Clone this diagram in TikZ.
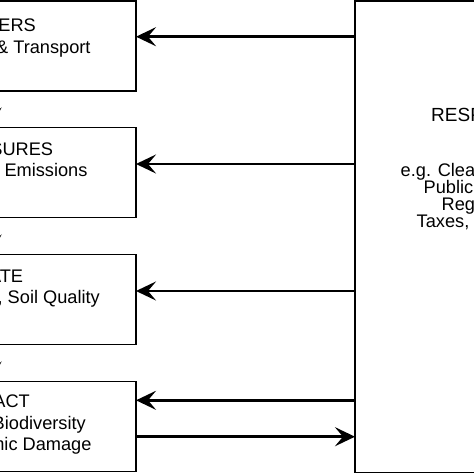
\documentclass[tikz,border=0pt]{standalone}
\usepackage{fontspec}
\setmainfont{Liberation Sans}
\usetikzlibrary{arrows.meta}
\begin{document}
\begin{tikzpicture}[x=1pt,y=-1pt,
  box/.style={draw=black,line width=1.6pt,fill=white,minimum width=278pt,minimum height=90pt,inner sep=0pt,outer sep=0pt},
  respbox/.style={draw=black,line width=1.4pt,fill=white,minimum width=260pt,minimum height=471.3pt,inner sep=0pt,outer sep=0pt},
  txt/.style={inner sep=0pt,font=\fontsize{18.2}{20}\selectfont},
  ttl/.style={inner sep=0pt,font=\fontsize{19}{21}\selectfont},
  arr/.style={line width=2.5pt,-{Stealth[length=20pt,width=19pt,inset=8pt]}}
]
\useasboundingbox (0,0) rectangle (474,474);
\clip (0,0) rectangle (474,474);
\fill[white] (0,0) rectangle (474,474);
% boxes
\node[box] (drivers) at (-3,46) {};
\node[box] (pressures) at (-3,172.5) {};
\node[box] (state) at (-3,299.5) {};
\node[box] (impact) at (-3,426.5) {};
\node[respbox] (responses) at (485,236.65) {};
% left box texts
\node[txt,anchor=base east] (d1) at (36,31.7) {DRIVERS};
\node[txt,anchor=base east] (d2) at (90.7,53.3) {e.g. Industry \& Transport};
\node[txt,anchor=base east] (p1) at (53.3,155) {PRESSURES};
\node[txt,anchor=base east] (p2) at (87.7,176) {e.g. Polluting Emissions};
\node[txt,anchor=base east] (s1) at (23.3,282.5) {STATE};
\node[txt,anchor=base east] (s2) at (100,303.5) {e.g. Air, Water, Soil Quality};
\node[txt,anchor=base east] (i1) at (30,407.7) {IMPACT};
\node[txt,anchor=base east] (i2) at (86,429.5) {e.g. Ill Health, Loss of Biodiversity};
\node[txt,anchor=base east] (i3) at (91.7,450.5) {Economic Damage};
% responses text
\node[ttl,anchor=base west] (r1) at (431,121) {RESPONSES};
\node[txt,anchor=base west] (r2) at (400.5,176.5) {e.g. Clean Production,};
\node[txt,anchor=base west] (r3) at (423.5,193.5) {Public Transport,};
\node[txt,anchor=base west] (r4) at (441.5,210.5) {Regulations,};
\node[txt,anchor=base west] (r5) at (416.5,227.5) {Taxes, Information};
% arrow levels
\coordinate (y1) at (0,36.7);
\coordinate (y2) at (0,164);
\coordinate (y3) at (0,291);
\coordinate (y4) at (0,400.3);
\coordinate (y5) at (0,436.7);
\coordinate (vx) at (-8,0);
\draw[arr] (responses.west |- y1) -- (drivers.east |- y1);
\draw[arr] (responses.west |- y2) -- (pressures.east |- y2);
\draw[arr] (responses.west |- y3) -- (state.east |- y3);
\draw[arr] (responses.west |- y4) -- (impact.east |- y4);
\draw[arr] (impact.east |- y5) -- (responses.west |- y5);
% vertical arrows between boxes
\draw[arr] (drivers.south -| vx) -- (pressures.north -| vx);
\draw[arr] (pressures.south -| vx) -- (state.north -| vx);
\draw[arr] (state.south -| vx) -- (impact.north -| vx);
\end{tikzpicture}
\end{document}
